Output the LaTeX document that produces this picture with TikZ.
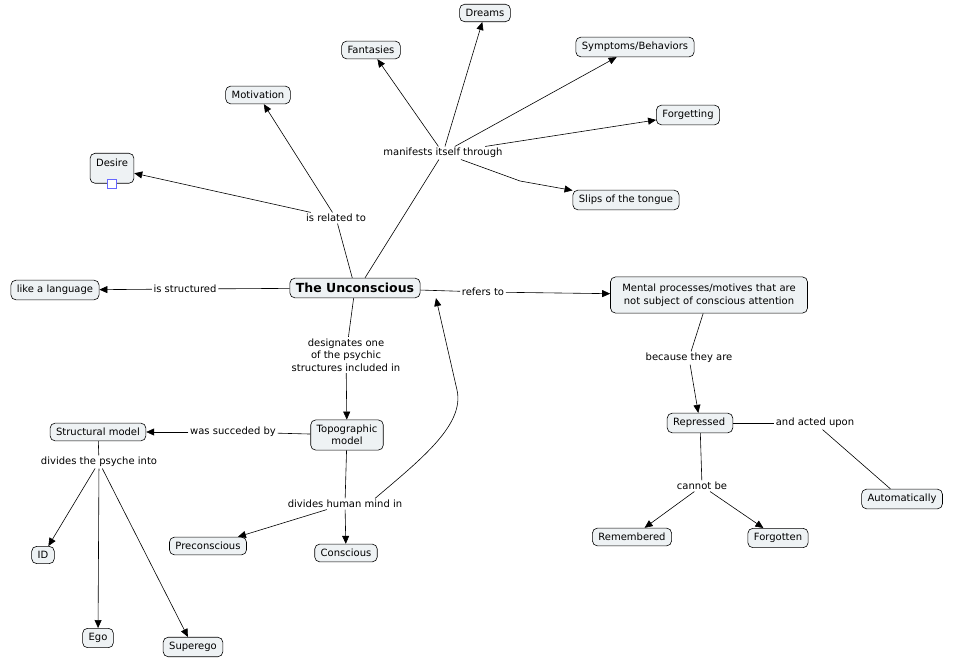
\documentclass[tikz,border=0pt]{standalone}
\usepackage{fontspec}
\setmainfont{DejaVu Sans}
\usetikzlibrary{arrows.meta}
\begin{document}
\begin{tikzpicture}[x=1pt,y=-1pt,
 box/.style={draw=black,fill=cbox,rounded corners=5pt,font=\fontsize{10}{12.5}\selectfont,inner xsep=6pt,inner ysep=5pt,line width=0.6pt,align=center},
 lab/.style={fill=white,font=\fontsize{10}{12.5}\selectfont,inner sep=1.5pt,align=center},
 ar/.style={-{Triangle[length=8pt,width=7pt]},line width=0.6pt},
 ln/.style={line width=0.6pt}]
\definecolor{cbox}{HTML}{EEF2F4}
\useasboundingbox (0,0) rectangle (954,663);
\node[box] (dreams) at (485,13) {Dreams};
\node[box] (fant) at (371,50) {Fantasies};
\node[box] (symp) at (635,47) {Symptoms/Behaviors};
\node[box] (motiv) at (258,95) {Motivation};
\node[box] (forg) at (688,115) {Forgetting};
\node[box,minimum height=30pt,inner ysep=3pt,anchor=north] (desire) at (112,153) {Desire\\[-1pt]\phantom{x}};
\node[draw=blue!60,fill=white,minimum size=9pt,inner sep=0pt,line width=0.6pt] (icon) at (112,184) {};
\node[lab] (manif) at (443,153) {manifests itself through};
\node[box] (slips) at (626,200) {Slips of the tongue};
\node[lab] (rel) at (336,218) {is related to};
\node[box] (lang) at (55,290) {like a language};
\node[box,font=\fontsize{12.5}{14}\selectfont\bfseries] (unc) at (355,288) {The Unconscious};
\node[lab] (struct) at (185,289) {is structured};
\node[lab] (refers) at (483,292) {refers to};
\node[box,text width=185pt,inner ysep=7pt] (mental) at (709,295) {Mental processes/motives that are not subject of conscious attention};
\node[lab] (design) at (346,355) {designates one\\of the psychic\\structures included in};
\node[lab] (because) at (689,358) {because they are};
\node[box] (structm) at (98,432) {Structural model};
\node[lab] (succ) at (233,432) {was succeded by};
\node[box] (topo) at (347,435) {Topographic\\model};
\node[box] (repr) at (700,423) {Repressed\,};
\node[lab] (acted) at (815,423) {and acted upon};
\node[lab] (psyche) at (99,462) {divides the psyche into};
\node[lab] (cannot) at (702,486) {cannot be};
\node[box] (auto) at (902,499) {Automatically};
\node[lab] (human) at (345,504) {divides human mind in};
\node[box] (id) at (43,555) {ID};
\node[box] (precon) at (208,546) {Preconscious};
\node[box] (consc) at (346,553) {Conscious};
\node[box] (remem) at (632,537) {Remembered};
\node[box] (forgot) at (778,538) {Forgotten};
\node[box] (ego) at (98,638) {Ego};
\node[box] (super) at (193,647) {Superego};
% edges
\draw[ln] (unc.north) ++(10,0) -- (manif);
\draw[ar] (manif) -- (dreams);
\draw[ar] (manif) -- (fant);
\draw[ar] (manif) -- (symp);
\draw[ar] (manif) -- (forg);
\draw[ar] (manif) -- (520,181) -- (slips);
\draw[ln] (unc) -- (rel);
\draw[ar] (rel) -- (motiv);
\draw[ar] (rel) -- (desire);
\draw[ln] (unc) -- (struct);
\draw[ar] (struct) -- (lang);
\draw[ln] (unc) -- (refers);
\draw[ar] (refers) -- (mental);
\draw[ln] (unc) -- (design);
\draw[ar] (design) -- (topo);
\draw[ln] (topo) -- (succ);
\draw[ar] (succ) -- (structm);
\draw[ln] (topo) -- (human);
\draw[ar] (human) -- (precon);
\draw[ar] (human) -- (consc);
\draw[ar] (human.north) ++(30,0) .. controls (420,460) and (465,425) .. (457,390) -- (unc.south east -| 436,0);
\draw[ln] (structm) -- (psyche);
\draw[ar] (psyche) -- (id);
\draw[ar] (psyche) -- (ego);
\draw[ar] (psyche) -- (super);
\draw[ln] (mental) -- (because);
\draw[ar] (because) -- (repr);
\draw[ln] (repr) -- (cannot);
\draw[ar] (cannot) -- (remem);
\draw[ar] (cannot) -- (forgot);
\draw[ln] (repr) -- (acted);
\draw[ln] (acted) -- (auto);
\end{tikzpicture}
\end{document}
